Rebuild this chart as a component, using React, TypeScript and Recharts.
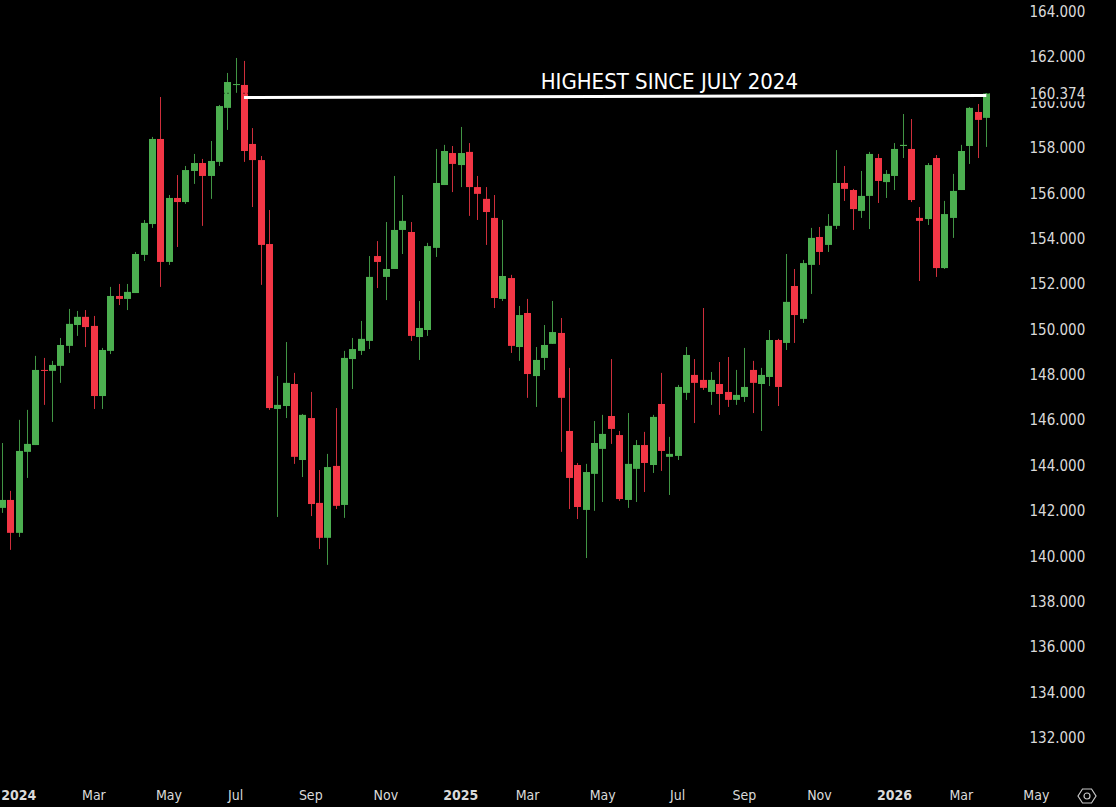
import React from 'react';
import { ComposedChart, Bar, Line, XAxis, YAxis, ReferenceDot, ReferenceLine } from 'recharts';

// weekly candles, Jan 2024 to Mar 2026
const opens = [
    142.10, 142.45, 141.00, 144.57, 144.87, 148.18, 148.14, 148.36, 149.24, 150.16,
    150.52, 150.12, 147.03, 149.02, 151.44, 151.31, 151.57, 153.25, 154.61, 158.36,
    152.94, 155.76, 155.58, 156.95, 157.30, 156.73, 157.35, 159.73, 160.74, 160.74,
    158.14, 157.43, 153.73, 146.46, 146.59, 147.56, 144.21, 146.06, 142.32, 140.78,
    143.95, 142.23, 148.66, 149.02, 149.46, 153.20, 152.28, 152.63, 154.35, 154.26,
    149.63, 149.94, 153.56, 156.33, 157.74, 157.21, 157.79, 156.24, 155.72, 154.88,
    151.31, 152.23, 149.19, 150.69, 147.91, 148.71, 149.33, 149.81, 145.49, 143.99,
    142.01, 143.60, 144.70, 146.15, 145.31, 142.45, 143.82, 144.87, 143.99, 146.68,
    144.35, 144.39, 147.17, 147.96, 147.74, 147.21, 147.56, 147.21, 146.86, 146.99,
    148.18, 147.56, 147.87, 149.50, 149.37, 151.88, 150.43, 152.81, 154.04, 153.69,
    154.53, 156.42, 156.11, 155.19, 155.85, 157.52, 156.46, 156.73, 158.05, 157.92,
    154.88, 154.83, 157.52, 152.67, 154.88, 156.11, 158.05, 159.55, 159.29,
];
const highs = [
    144.96, 142.85, 145.98, 146.42, 148.80, 148.71, 148.58, 149.59, 150.87, 150.78,
    150.82, 150.56, 149.15, 151.84, 151.97, 151.97, 153.38, 154.79, 158.45, 160.21,
    155.89, 156.77, 157.17, 157.70, 157.48, 158.27, 159.86, 161.27, 161.93, 161.80,
    158.84, 157.61, 155.23, 147.91, 149.41, 148.05, 146.24, 147.21, 143.77, 144.48,
    146.50, 149.02, 149.59, 150.34, 153.20, 153.86, 154.70, 156.73, 155.89, 154.70,
    151.22, 153.78, 157.92, 158.10, 158.05, 158.89, 158.18, 156.73, 156.24, 155.89,
    154.79, 152.37, 151.00, 151.31, 149.19, 150.16, 151.22, 150.47, 148.27, 144.08,
    144.04, 145.93, 146.20, 148.66, 145.49, 146.28, 145.09, 145.45, 146.20, 148.05,
    145.23, 147.52, 149.19, 148.66, 150.91, 148.09, 148.53, 148.75, 148.18, 149.15,
    148.58, 148.27, 149.94, 149.55, 153.29, 152.63, 153.03, 154.44, 154.48, 155.05,
    157.87, 157.17, 156.16, 156.95, 157.79, 157.70, 156.99, 158.18, 159.46, 159.24,
    155.36, 157.30, 157.65, 155.63, 156.82, 158.10, 159.77, 159.90, 160.374,
];
const lows = [
    141.88, 140.25, 140.82, 143.42, 144.87, 146.64, 145.89, 147.61, 148.93, 149.68,
    149.19, 146.46, 146.46, 148.88, 151.04, 150.82, 151.57, 152.98, 154.44, 151.84,
    152.81, 153.60, 155.50, 156.38, 154.53, 155.72, 157.17, 158.76, 160.39, 157.35,
    155.36, 151.93, 146.42, 141.70, 146.06, 144.04, 143.46, 141.74, 140.29, 139.59,
    142.05, 141.66, 147.34, 148.84, 149.10, 151.79, 151.26, 152.63, 153.29, 149.46,
    148.62, 149.68, 153.16, 156.33, 156.02, 156.24, 154.97, 154.79, 153.69, 150.91,
    151.22, 148.93, 148.58, 146.95, 146.55, 148.18, 149.33, 144.57, 142.05, 141.61,
    139.89, 141.97, 142.36, 144.92, 142.41, 142.10, 142.36, 142.80, 143.64, 143.73,
    142.67, 144.21, 146.86, 145.84, 147.30, 146.64, 146.20, 146.55, 146.64, 146.77,
    146.28, 145.49, 147.47, 146.59, 149.06, 149.37, 150.25, 151.53, 152.81, 153.38,
    154.39, 155.63, 154.35, 154.88, 154.39, 155.54, 155.76, 156.11, 157.52, 155.58,
    152.10, 154.57, 152.28, 152.63, 154.00, 156.11, 157.26, 157.52, 158.01,
];
const closes = [
    142.45, 141.00, 144.61, 144.92, 148.18, 148.14, 148.40, 149.28, 150.21, 150.52,
    150.07, 147.03, 149.06, 151.44, 151.31, 151.62, 153.29, 154.66, 158.36, 152.94,
    155.76, 155.58, 156.99, 157.30, 156.73, 157.39, 159.81, 160.87, 160.78, 157.83,
    157.43, 153.69, 146.50, 146.64, 147.61, 144.35, 146.20, 142.27, 140.78, 143.90,
    142.19, 148.71, 149.10, 149.55, 152.28, 152.94, 152.63, 154.35, 154.75, 149.68,
    150.03, 153.64, 156.42, 157.83, 157.26, 157.74, 156.24, 155.94, 155.14, 151.35,
    152.32, 149.24, 150.60, 148.00, 148.62, 149.28, 149.85, 146.95, 143.42, 142.14,
    143.68, 144.96, 145.36, 145.58, 142.49, 144.04, 144.87, 144.08, 146.11, 144.61,
    144.48, 147.43, 148.84, 147.61, 147.39, 147.74, 147.12, 146.86, 147.08, 147.43,
    147.61, 147.96, 149.50, 147.43, 151.18, 150.60, 152.89, 154.00, 153.38, 154.53,
    156.42, 156.16, 155.27, 155.85, 157.70, 156.51, 156.82, 157.92, 158.10, 155.67,
    154.75, 157.21, 152.67, 155.05, 156.07, 157.83, 159.73, 159.20, 160.374,
];

const futureWeeks = 6;
const lastPrice = 160.374;
const priceTicks = [132, 134, 136, 138, 140, 142, 144, 146, 148, 150, 152, 154, 156, 158, 160, lastPrice, 162, 164];

const monthTickWeeks = [2, 11, 20, 28, 37, 46, 55, 63, 72, 81, 89, 98, 107, 115, 124];
const monthTickLabels = ['2024', 'Mar', 'May', 'Jul', 'Sep', 'Nov', '2025', 'Mar', 'May', 'Jul', 'Sep', 'Nov', '2026', 'Mar', 'May'];

const annotationText = 'HIGHEST SINCE JULY 2024';
const annotationFromWeek = 29;
const annotationFromPrice = 160.188;
const annotationToWeek = 118;
const annotationToPrice = 160.276;
const annotationLabelWeek = 80;
const annotationLabelPrice = 160.915;

const UP = '#4CAF50';
const DOWN = '#F23645';
const TEXT = '#DADADA';
const FONT = '"DejaVu Sans Condensed", "DejaVu Sans", sans-serif';

const chartData = Array.from({ length: opens.length + futureWeeks }, (_, week) => {
    const row: any = { week };
    if (week < opens.length) {
        row.open = opens[week];
        row.high = highs[week];
        row.low = lows[week];
        row.close = closes[week];
        row.range = [lows[week], highs[week]];
    }
    if (week === annotationFromWeek) row.annotation = annotationFromPrice;
    if (week === annotationToWeek) row.annotation = annotationToPrice;
    return row;
});

const Candle = (props: any) => {
    const { x, y, width, height, payload } = props;
    if (!payload || payload.open === undefined || !isFinite(y) || !isFinite(height)) return null;
    const { open, high, low, close } = payload;
    const color = close >= open ? UP : DOWN;
    const perUnit = height / (high - low);
    const top = y + (high - Math.max(open, close)) * perUnit;
    const bodyHeight = Math.max(Math.abs(open - close) * perUnit, 1);
    const left = Math.round(x);
    return (
        <g>
            <rect x={left + 3} y={y} width={1} height={height} fill={color} fillOpacity={0.85} />
            <rect x={left} y={top} width={7} height={bodyHeight} fill={color} />
        </g>
    );
};

const PriceTick = ({ x, y, payload }: any) => {
    const isLast = payload.value === lastPrice;
    return (
        <g>
            {isLast && <rect x={x - 19} y={y - 8} width={72} height={16} fill="#000" />}
            <text x={x - 19} y={y} dy={6} fill={TEXT} fontSize={15} fontFamily={FONT}>
                {payload.value.toFixed(3)}
            </text>
        </g>
    );
};

const MonthTick = ({ x, y, payload }: any) => {
    const label = monthTickLabels[monthTickWeeks.indexOf(payload.value)];
    const isYear = /^\d+$/.test(label);
    return (
        <text x={x} y={y} dy={14} textAnchor="middle" fill={TEXT} fontSize={14} fontFamily={FONT} fontWeight={isYear ? 700 : 400}>
            {label}
        </text>
    );
};

export default function App() {
    return (
        <div style={{ position: 'absolute', left: 0, top: 0, width: 1116, height: 807, background: '#000', overflow: 'hidden' }}>
            <div style={{ position: 'absolute', left: -2.5, top: 0 }}>
                <ComposedChart width={1118.5} height={807} data={chartData} margin={{ top: 0, right: 0, bottom: 0, left: 0 }}>
                    <XAxis
                        dataKey="week"
                        ticks={monthTickWeeks}
                        interval={0}
                        height={29}
                        axisLine={false}
                        tickLine={false}
                        tick={<MonthTick />}
                    />
                    <YAxis
                        orientation="right"
                        width={76}
                        domain={[130.195, 164.485]}
                        allowDataOverflow
                        ticks={priceTicks}
                        interval={0}
                        axisLine={false}
                        tickLine={false}
                        tick={<PriceTick />}
                    />
                    <Line
                        dataKey="annotation"
                        connectNulls
                        dot={false}
                        stroke="#FFFFFF"
                        strokeWidth={3}
                        isAnimationActive={false}
                    />
                    <Bar dataKey="range" barSize={7} shape={<Candle />} isAnimationActive={false} />
                    <ReferenceLine y={lastPrice} stroke="#000" strokeDasharray="1 3" />
                    <ReferenceDot
                        x={annotationLabelWeek}
                        y={annotationLabelPrice}
                        r={0}
                        stroke="none"
                        label={{ value: annotationText, position: 'center', fill: '#FFFFFF', fontSize: 22, fontFamily: FONT }}
                    />
                </ComposedChart>
            </div>
            <svg style={{ position: 'absolute', left: 1076, top: 787 }} width={22} height={18}>
                <path d="M2 9 L6.5 2 L15.5 2 L20 9 L15.5 16 L6.5 16 Z" fill="none" stroke="#C8C8C8" strokeWidth={1.2} />
                <circle cx={11} cy={9} r={3} fill="none" stroke="#C8C8C8" strokeWidth={1.2} />
            </svg>
        </div>
    );
}
